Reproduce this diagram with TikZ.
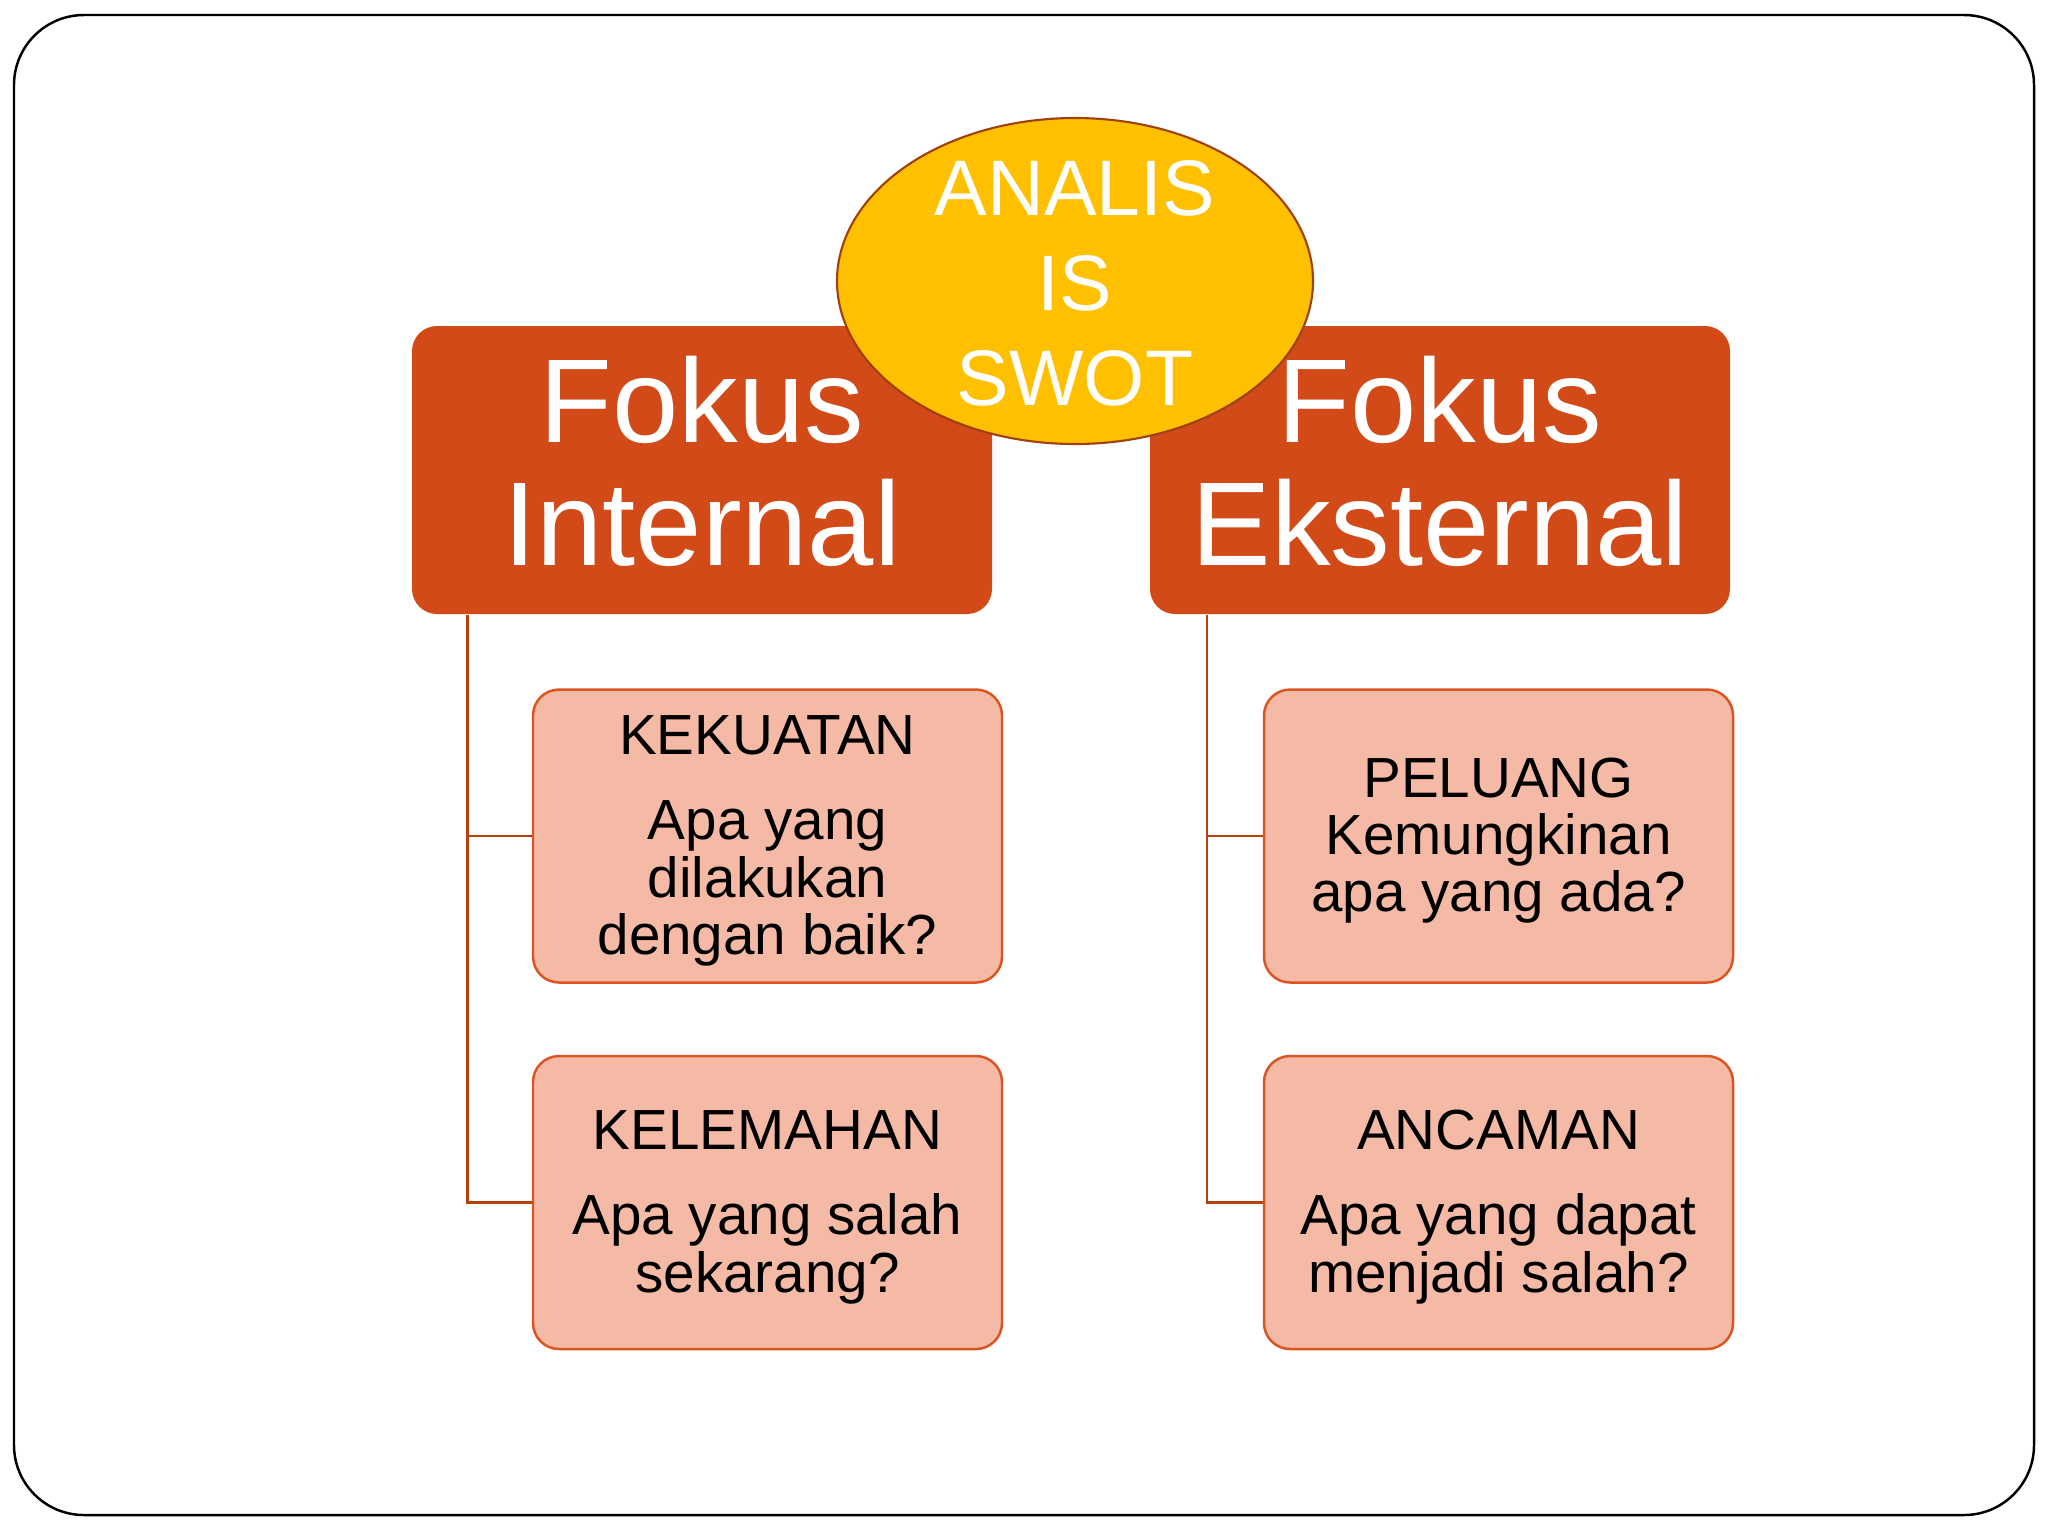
\documentclass[tikz,border=0pt]{standalone}
\usepackage{fontspec}
\setmainfont{Liberation Sans}
\usetikzlibrary{shapes.geometric}
\definecolor{hdr}{HTML}{D24A18}
\definecolor{childfill}{HTML}{F4BAA5}
\definecolor{childline}{HTML}{DA5522}
\definecolor{conn}{HTML}{B5410F}
\definecolor{gold}{HTML}{FFC000}
\definecolor{goldline}{HTML}{A0400E}
\newcommand{\lowstrut}{\rule[-5pt]{0pt}{5pt}}
\newcommand{\topstrut}{\rule{0pt}{13.8pt}}
\begin{document}
\begin{tikzpicture}[x=0.1mm,y=-0.1mm,
 hdrbox/.style={rectangle, rounded corners=2.5mm, fill=hdr, text=white, minimum width=58mm, minimum height=28.8mm, align=center, inner sep=0pt, font=\fontsize{33.9pt}{35pt}\selectfont},
 childbox/.style={rectangle, rounded corners=2.6mm, fill=childfill, draw=childline, line width=0.7pt, minimum width=46.9mm, minimum height=29.3mm, align=center, inner sep=0pt, font=\fontsize{16.1pt}{16.3pt}\selectfont},
 connector/.style={draw=conn, line width=0.75pt},
 swotshape/.style={ellipse, fill=gold, draw=goldline, line width=0.6pt, minimum width=47.6mm, minimum height=32.6mm, inner sep=0pt},
 swottext/.style={text=white, align=center, inner sep=0pt, font=\fontsize{22.4pt}{27pt}\selectfont}]
\useasboundingbox (0,0) rectangle (2048,1536);
\fill[white] (0,0) rectangle (2048,1536);
\draw[line width=0.7pt, rounded corners=7mm] (14,15) rectangle (2034,1515);

% headers
\node[hdrbox] (hdrL) at (702,470) {Fokus\\Internal\lowstrut};
\node[hdrbox] (hdrR) at (1440,470) {Fokus\\Eksternal\lowstrut};

% central ellipse
\node[swotshape] (swot) at (1075,281) {};
\node[swottext] (swottxt) at (1075,283) {ANALIS\\IS\\SWOT};

% child boxes
\node[childbox] (kek) at (767.5,836) {\topstrut KEKUATAN\\[8pt]Apa yang\\dilakukan\\dengan baik?};
\node[childbox] (kel) at (767.5,1202.5) {\topstrut KELEMAHAN\\[8pt]Apa yang salah\\sekarang?};
\node[childbox] (pel) at (1498.5,836) {\topstrut PELUANG\\Kemungkinan\\apa yang ada?};
\node[childbox] (anc) at (1498.5,1202.5) {\topstrut ANCAMAN\\[8pt]Apa yang dapat\\menjadi salah?};

% connectors
\draw[connector] ([xshift=5.65mm]hdrL.south west) |- (kek.west);
\draw[connector] ([xshift=5.65mm]hdrL.south west) |- (kel.west);
\draw[connector] ([xshift=5.75mm]hdrR.south west) |- (pel.west);
\draw[connector] ([xshift=5.75mm]hdrR.south west) |- (anc.west);
\end{tikzpicture}
\end{document}
